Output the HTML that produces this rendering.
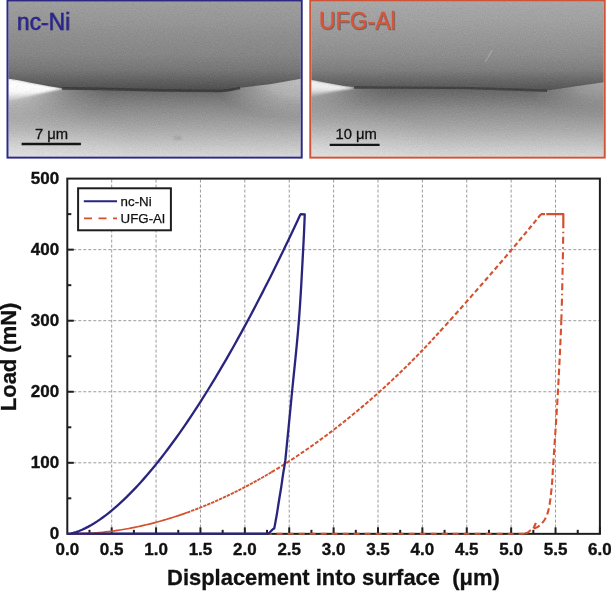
<!DOCTYPE html>
<html><head><meta charset="utf-8"><style>
html,body{margin:0;padding:0;background:#fff;}
body{width:611px;height:591px;overflow:hidden;}
svg{display:block;}
text{font-family:"Liberation Sans",Arial,sans-serif;}
.tick{font-size:17px;font-weight:bold;fill:#111;stroke:#111;stroke-width:0.35px;}
.axt{font-size:22px;font-weight:bold;fill:#111;stroke:#111;stroke-width:0.3px;}
.leg{font-size:13.3px;fill:#111;stroke:#111;stroke-width:0.25px;}
.lab{font-size:23.5px;}
.sb{font-size:14.8px;fill:#111;stroke:#111;stroke-width:0.3px;}
</style></head><body>
<svg width="611" height="591" viewBox="0 0 611 591">
<defs>
<linearGradient id="gL_blob" x1="0" y1="0" x2="0" y2="91" gradientUnits="userSpaceOnUse">
  <stop offset="0.0000" stop-color="#9e9e9e"/>
  <stop offset="0.2088" stop-color="#979797"/>
  <stop offset="0.3736" stop-color="#8f8f8f"/>
  <stop offset="0.6044" stop-color="#858585"/>
  <stop offset="0.7692" stop-color="#767676"/>
  <stop offset="0.8681" stop-color="#646464"/>
  <stop offset="0.9451" stop-color="#565656"/>
  <stop offset="1.0000" stop-color="#4c4c4c"/>
</linearGradient>
<linearGradient id="gL_ground" x1="0" y1="88" x2="0" y2="157" gradientUnits="userSpaceOnUse">
  <stop offset="0.0000" stop-color="#646464"/>
  <stop offset="0.1014" stop-color="#717171"/>
  <stop offset="0.1739" stop-color="#7b7b7b"/>
  <stop offset="0.3188" stop-color="#8c8c8c"/>
  <stop offset="0.4638" stop-color="#9b9b9b"/>
  <stop offset="0.6087" stop-color="#aaaaaa"/>
  <stop offset="0.7536" stop-color="#bbbbbb"/>
  <stop offset="0.8986" stop-color="#cccccc"/>
  <stop offset="1.0000" stop-color="#d6d6d6"/>
</linearGradient>
<linearGradient id="gR_blob" x1="0" y1="0" x2="0" y2="91" gradientUnits="userSpaceOnUse">
  <stop offset="0.0000" stop-color="#a8a8a8"/>
  <stop offset="0.2088" stop-color="#a1a1a1"/>
  <stop offset="0.3736" stop-color="#999999"/>
  <stop offset="0.6044" stop-color="#8d8d8d"/>
  <stop offset="0.7692" stop-color="#7e7e7e"/>
  <stop offset="0.8681" stop-color="#6a6a6a"/>
  <stop offset="0.9451" stop-color="#5c5c5c"/>
  <stop offset="1.0000" stop-color="#525252"/>
</linearGradient>
<linearGradient id="gR_ground" x1="0" y1="88" x2="0" y2="157" gradientUnits="userSpaceOnUse">
  <stop offset="0.0000" stop-color="#646464"/>
  <stop offset="0.1014" stop-color="#6f6f6f"/>
  <stop offset="0.1739" stop-color="#797979"/>
  <stop offset="0.3188" stop-color="#8c8c8c"/>
  <stop offset="0.4638" stop-color="#9b9b9b"/>
  <stop offset="0.6087" stop-color="#aaaaaa"/>
  <stop offset="0.7536" stop-color="#bbbbbb"/>
  <stop offset="0.8986" stop-color="#cccccc"/>
  <stop offset="1.0000" stop-color="#d6d6d6"/>
</linearGradient>
<radialGradient id="gLside" cx="8" cy="150" r="1" gradientUnits="userSpaceOnUse" gradientTransform="translate(8 150) scale(130 50) translate(-8 -150)">
  <stop offset="0" stop-color="#ffffff" stop-opacity="0.24"/>
  <stop offset="0.5" stop-color="#ffffff" stop-opacity="0.12"/>
  <stop offset="1" stop-color="#ffffff" stop-opacity="0"/>
</radialGradient>
<radialGradient id="gRside" cx="311" cy="150" r="1" gradientUnits="userSpaceOnUse" gradientTransform="translate(311 150) scale(125 50) translate(-311 -150)">
  <stop offset="0" stop-color="#ffffff" stop-opacity="0.24"/>
  <stop offset="0.5" stop-color="#ffffff" stop-opacity="0.12"/>
  <stop offset="1" stop-color="#ffffff" stop-opacity="0"/>
</radialGradient>
<linearGradient id="gL_wtri" x1="0" y1="80" x2="0" y2="104" gradientUnits="userSpaceOnUse">
  <stop offset="0.0000" stop-color="#fefefe"/>
  <stop offset="0.5000" stop-color="#f8f8f8"/>
  <stop offset="1.0000" stop-color="#e1e1e1" stop-opacity="0"/>
</linearGradient>
<linearGradient id="gR_wtri" x1="0" y1="80" x2="0" y2="99" gradientUnits="userSpaceOnUse">
  <stop offset="0.0000" stop-color="#f2f2f2"/>
  <stop offset="0.4737" stop-color="#eaeaea"/>
  <stop offset="1.0000" stop-color="#d2d2d2" stop-opacity="0"/>
</linearGradient>
<radialGradient id="gL_glow" cx="8" cy="84" r="1" gradientUnits="userSpaceOnUse" gradientTransform="translate(8 84) scale(100 55) translate(-8 -84)">
  <stop offset="0" stop-color="#d7d7d7" stop-opacity="1"/>
  <stop offset="0.35" stop-color="#c8c8c8" stop-opacity="0.7"/>
  <stop offset="0.7" stop-color="#b9b9b9" stop-opacity="0.25"/>
  <stop offset="1" stop-color="#b4b4b4" stop-opacity="0"/>
</radialGradient>
<radialGradient id="gL_rglow" cx="304" cy="80" r="1" gradientUnits="userSpaceOnUse" gradientTransform="translate(304 80) scale(90 40) translate(-304 -80)">
  <stop offset="0" stop-color="#bebebe" stop-opacity="1"/>
  <stop offset="0.4" stop-color="#b8b8b8" stop-opacity="0.9"/>
  <stop offset="0.75" stop-color="#b0b0b0" stop-opacity="0.45"/>
  <stop offset="1" stop-color="#acacac" stop-opacity="0"/>
</radialGradient>
<radialGradient id="gR_glow" cx="311" cy="84" r="1" gradientUnits="userSpaceOnUse" gradientTransform="translate(311 84) scale(80 50) translate(-311 -84)">
  <stop offset="0" stop-color="#bebebe" stop-opacity="0.85"/>
  <stop offset="0.35" stop-color="#b6b6b6" stop-opacity="0.5"/>
  <stop offset="0.7" stop-color="#acacac" stop-opacity="0.15"/>
  <stop offset="1" stop-color="#a5a5a5" stop-opacity="0"/>
</radialGradient>
<radialGradient id="gR_rglow" cx="606" cy="82" r="1" gradientUnits="userSpaceOnUse" gradientTransform="translate(606 82) scale(80 36) translate(-606 -82)">
  <stop offset="0" stop-color="#a8a8a8" stop-opacity="1"/>
  <stop offset="0.4" stop-color="#a0a0a0" stop-opacity="0.8"/>
  <stop offset="0.75" stop-color="#989898" stop-opacity="0.35"/>
  <stop offset="1" stop-color="#949494" stop-opacity="0"/>
</radialGradient>
<filter id="grain" filterUnits="userSpaceOnUse" x="0" y="0" width="611" height="160" color-interpolation-filters="sRGB">
  <feTurbulence type="fractalNoise" baseFrequency="0.75" numOctaves="2" seed="7" result="n"/>
  <feColorMatrix in="n" type="matrix" values="1 0 0 0 0  1 0 0 0 0  1 0 0 0 0  0 0 0 0 1" result="ng"/>
  <feComposite in="SourceGraphic" in2="ng" operator="arithmetic" k1="0" k2="1" k3="0.10" k4="-0.05"/>
</filter>
<filter id="blur05" filterUnits="userSpaceOnUse" x="0" y="0" width="611" height="160"><feGaussianBlur stdDeviation="0.6"/></filter>
<filter id="blur1" filterUnits="userSpaceOnUse" x="0" y="0" width="611" height="160"><feGaussianBlur stdDeviation="1.0"/></filter>
<filter id="blur3" filterUnits="userSpaceOnUse" x="0" y="0" width="611" height="160"><feGaussianBlur stdDeviation="3"/></filter>
<filter id="blur5" filterUnits="userSpaceOnUse" x="0" y="0" width="611" height="160"><feGaussianBlur stdDeviation="5"/></filter>
<clipPath id="cL"><rect x="8.5" y="1.6" width="292.2" height="155"/></clipPath>
<clipPath id="cR"><rect x="311.3" y="1.6" width="292.4" height="155"/></clipPath>

</defs>

<g clip-path="url(#cL)"><g filter="url(#grain)">
  <rect x="8.5" y="0" width="292.2" height="157" fill="url(#gL_ground)"/>
  <rect x="0" y="95" width="150" height="65" fill="url(#gLside)"/>
  <rect x="0" y="60" width="200" height="100" fill="url(#gL_glow)"/>
  <rect x="200" y="60" width="110" height="80" fill="url(#gL_rglow)"/>
  <path d="M5,78.7 L64,88.4 C45,92 25,97 5,102 Z" fill="url(#gL_wtri)" filter="url(#blur1)"/>
  <ellipse cx="177.5" cy="138" rx="4.5" ry="2" fill="#808080" opacity="0.35" filter="url(#blur1)"/>
  <path d="M0,0 L302,0 L302,78.6 L270,84.2 L240,87.8 C232,89.5 226,90.6 220,90.8 L160,90.2 L100,88.7 L62,88.2 C45,86 28,81.5 8.5,78.7 L0,78.7 Z" fill="url(#gL_blob)"/>
  <path d="M62,88.4 L100,88.9 L160,90.4 L220,91 C226,90.8 232,89.7 240,88" fill="none" stroke="#383838" stroke-width="2.6" filter="url(#blur05)" opacity="0.85"/>
</g></g>
<rect x="7.5" y="0.6" width="294.2" height="157" fill="none" stroke="#2d2884" stroke-width="2"/>
<text x="17.6" y="30.4" class="lab" style="font-size:23px" fill="#333" stroke="#333" stroke-width="0.4" opacity="0.5" filter="url(#blur05)" textLength="53.2" lengthAdjust="spacingAndGlyphs">nc-Ni</text>
<text x="16.8" y="29.6" class="lab" style="font-size:23px" fill="#2b2592" stroke="#2b2592" stroke-width="0.35" textLength="53.2" lengthAdjust="spacingAndGlyphs">nc-Ni</text>
<line x1="21.6" y1="144.1" x2="80.9" y2="144.1" stroke="#151515" stroke-width="2.5"/>
<text x="35" y="138.6" class="sb">7 &#956;m</text>

<g clip-path="url(#cR)"><g filter="url(#grain)">
  <rect x="311" y="0" width="293" height="157" fill="url(#gR_ground)"/>
  <rect x="300" y="95" width="150" height="65" fill="url(#gRside)"/>
  <rect x="300" y="60" width="200" height="100" fill="url(#gR_glow)"/>
  <rect x="500" y="60" width="110" height="80" fill="url(#gR_rglow)"/>
  <path d="M308,79.8 L356,88 C340,90 325,93 308,97 Z" fill="url(#gR_wtri)" filter="url(#blur1)"/>
  <path d="M305,0 L606,0 L606,82 L547,90.5 L520,89.5 L470,87.9 L400,87.4 L356,87.3 C340,86 326,82.5 311.3,79.8 L305,79.8 Z" fill="url(#gR_blob)"/>
  <path d="M485,62 C488,58 490,55 492,50" fill="none" stroke="#c0c0c0" stroke-width="1.2" opacity="0.45" filter="url(#blur05)"/>
  <path d="M354,87.5 L400,87.6 L470,88.1 L520,89.7 L547,90.7" fill="none" stroke="#3c3c3c" stroke-width="2.4" filter="url(#blur05)" opacity="0.85"/>
</g></g>
<rect x="310.3" y="0.6" width="294.4" height="157" fill="none" stroke="#cf5337" stroke-width="2"/>
<text x="319.8" y="30.1" class="lab" fill="#333" stroke="#333" stroke-width="0.5" opacity="0.5" filter="url(#blur05)" textLength="76.6" lengthAdjust="spacingAndGlyphs">UFG-Al</text>
<text x="319.0" y="29.3" class="lab" fill="#d8553a" stroke="#d8553a" stroke-width="0.35" textLength="76.6" lengthAdjust="spacingAndGlyphs">UFG-Al</text>
<line x1="329.7" y1="144.9" x2="379.6" y2="144.9" stroke="#151515" stroke-width="2.2"/>
<text x="335.5" y="139.2" class="sb">10 &#956;m</text>


<g id="chart">
  <g stroke="#9a9a9a" stroke-width="1" stroke-dasharray="3 2" fill="none"><line x1="111.69" y1="179.6" x2="111.69" y2="532.8"/><line x1="156.07" y1="179.6" x2="156.07" y2="532.8"/><line x1="200.45" y1="179.6" x2="200.45" y2="532.8"/><line x1="244.84" y1="179.6" x2="244.84" y2="532.8"/><line x1="289.22" y1="179.6" x2="289.22" y2="532.8"/><line x1="333.61" y1="179.6" x2="333.61" y2="532.8"/><line x1="378.00" y1="179.6" x2="378.00" y2="532.8"/><line x1="422.38" y1="179.6" x2="422.38" y2="532.8"/><line x1="466.76" y1="179.6" x2="466.76" y2="532.8"/><line x1="511.15" y1="179.6" x2="511.15" y2="532.8"/><line x1="555.53" y1="179.6" x2="555.53" y2="532.8"/><line x1="68.3" y1="462.80" x2="599.5" y2="462.80"/><line x1="68.3" y1="391.75" x2="599.5" y2="391.75"/><line x1="68.3" y1="320.70" x2="599.5" y2="320.70"/><line x1="68.3" y1="249.65" x2="599.5" y2="249.65"/></g>
  <g stroke="#1e1e1e" stroke-width="2" fill="none">
    <rect x="67.3" y="178.6" width="532.6" height="355.25"/>
    <line x1="89.49" y1="533.85" x2="89.49" y2="529.85"/><line x1="111.69" y1="533.85" x2="111.69" y2="527.35"/><line x1="133.88" y1="533.85" x2="133.88" y2="529.85"/><line x1="156.07" y1="533.85" x2="156.07" y2="527.35"/><line x1="178.26" y1="533.85" x2="178.26" y2="529.85"/><line x1="200.45" y1="533.85" x2="200.45" y2="527.35"/><line x1="222.65" y1="533.85" x2="222.65" y2="529.85"/><line x1="244.84" y1="533.85" x2="244.84" y2="527.35"/><line x1="267.03" y1="533.85" x2="267.03" y2="529.85"/><line x1="289.22" y1="533.85" x2="289.22" y2="527.35"/><line x1="311.42" y1="533.85" x2="311.42" y2="529.85"/><line x1="333.61" y1="533.85" x2="333.61" y2="527.35"/><line x1="355.80" y1="533.85" x2="355.80" y2="529.85"/><line x1="378.00" y1="533.85" x2="378.00" y2="527.35"/><line x1="400.19" y1="533.85" x2="400.19" y2="529.85"/><line x1="422.38" y1="533.85" x2="422.38" y2="527.35"/><line x1="444.57" y1="533.85" x2="444.57" y2="529.85"/><line x1="466.76" y1="533.85" x2="466.76" y2="527.35"/><line x1="488.96" y1="533.85" x2="488.96" y2="529.85"/><line x1="511.15" y1="533.85" x2="511.15" y2="527.35"/><line x1="533.34" y1="533.85" x2="533.34" y2="529.85"/><line x1="555.53" y1="533.85" x2="555.53" y2="527.35"/><line x1="577.73" y1="533.85" x2="577.73" y2="529.85"/><line x1="599.92" y1="533.85" x2="599.92" y2="527.35"/><line x1="67.3" y1="498.33" x2="71.30" y2="498.33"/><line x1="67.3" y1="462.80" x2="73.80" y2="462.80"/><line x1="67.3" y1="427.28" x2="71.30" y2="427.28"/><line x1="67.3" y1="391.75" x2="73.80" y2="391.75"/><line x1="67.3" y1="356.23" x2="71.30" y2="356.23"/><line x1="67.3" y1="320.70" x2="73.80" y2="320.70"/><line x1="67.3" y1="285.18" x2="71.30" y2="285.18"/><line x1="67.3" y1="249.65" x2="73.80" y2="249.65"/><line x1="67.3" y1="214.12" x2="71.30" y2="214.12"/>
  </g>
  <g fill="none" stroke-linejoin="round" stroke-linecap="butt">
    <polyline points="524.64,533.71 268.36,533.71" stroke="#d4502f" stroke-width="2" stroke-dasharray="6 5"/>
    <polyline points="73.52,533.85 76.44,533.83 79.35,533.78 82.26,533.69 85.18,533.58 88.09,533.43 91.00,533.26 93.92,533.06 96.83,532.83 99.74,532.57 102.66,532.28 105.57,531.96 108.48,531.62 111.40,531.25 114.31,530.86 117.22,530.44 120.13,529.99 123.05,529.51 125.96,529.01 128.87,528.48 131.79,527.93 134.70,527.35 137.61,526.74 140.53,526.11 143.44,525.45 146.35,524.77 149.27,524.06 152.18,523.32 155.09,522.57 158.01,521.78 160.92,520.97 163.83,520.14 166.75,519.28 169.66,518.39 172.57,517.48 175.49,516.55 178.40,515.59 181.31,514.60 184.23,513.60 187.14,512.56" stroke="#d4502f" stroke-width="1.7"/>
    <polyline points="187.14,512.56 189.30,511.78 191.46,510.98 193.63,510.17 195.79,509.35 197.95,508.51 200.11,507.66 202.28,506.80 204.44,505.92 206.60,505.03 208.76,504.13 210.93,503.21 213.09,502.28 215.25,501.34 217.41,500.38 219.57,499.41 221.74,498.43 223.90,497.43 226.06,496.42 228.22,495.40 230.39,494.37 232.55,493.32 234.71,492.25 236.87,491.18 239.04,490.09 241.20,488.99 243.36,487.87 245.52,486.75 247.69,485.61 249.85,484.45 252.01,483.28 254.17,482.10 256.33,480.91 258.50,479.71 260.66,478.49 262.82,477.26 264.98,476.01 267.15,474.75 269.31,473.48 271.47,472.20" stroke="#d4502f" stroke-width="1.9" stroke-dasharray="3.4 0.9"/>
    <polyline points="271.47,472.20 274.91,470.13 278.36,468.03 281.80,465.89 285.24,463.72 288.68,461.52 292.12,459.29 295.57,457.03 299.01,454.73 302.45,452.40 305.89,450.04 309.33,447.64 312.78,445.22 316.22,442.76 319.66,440.27 323.10,437.74 326.54,435.19 329.99,432.60 333.43,429.98 336.87,427.33 340.31,424.65 343.76,421.93 347.20,419.18 350.64,416.40 354.08,413.58 357.52,410.74 360.97,407.86 364.41,404.94 367.85,402.00 371.29,399.01 374.73,396.00 378.18,392.94 381.62,389.85 385.06,386.73 388.50,383.56 391.94,380.36 395.39,377.12 398.83,373.84 402.27,370.52 405.71,367.15 409.16,363.75 412.60,360.30 416.04,356.81 419.48,353.28 422.92,349.71 426.37,346.10 429.81,342.45 433.25,338.76 436.69,335.04 440.13,331.29" stroke="#d4502f" stroke-width="2.0" stroke-dasharray="4 1.8"/>
    <polyline points="440.13,331.29 443.61,327.47 447.09,323.62 450.57,319.75 454.04,315.86 457.52,311.95 461.00,308.03 464.48,304.09 467.95,300.14 471.43,296.18 474.91,292.22 478.38,288.25 481.86,284.27 485.34,280.28 488.82,276.29 492.29,272.28 495.77,268.26 499.25,264.22 502.73,260.16 506.20,256.08 509.68,251.98 513.16,247.85 516.64,243.71 520.11,239.54 523.59,235.37 527.07,231.20 530.54,227.02 534.02,222.81 537.50,218.52 540.98,214.13" stroke="#d4502f" stroke-width="2.1" stroke-dasharray="4.7 2.8"/>
    <polyline points="540.98,214.12 563.35,214.12 563.30,228.34" stroke="#d4502f" stroke-width="2.2" stroke-dasharray="4 1.3 60 0"/>
    <polyline points="563.30,228.34 563.25,231.95 563.18,236.76 563.10,242.55 563.00,249.12 562.88,256.29 562.73,263.86 562.56,271.94 562.39,280.70 562.19,290.06 561.95,299.91 561.66,310.16 561.31,320.70" stroke="#d4502f" stroke-width="2.1" stroke-dasharray="7 3.5 1.5 3.5" stroke-dashoffset="7"/>
    <polyline points="561.31,320.70 560.87,331.72 560.37,343.33 559.82,355.34 559.22,367.54 558.59,379.74 557.93,391.75 557.19,404.21 556.35,417.41 555.48,430.61 554.64,443.06 553.89,454.04 553.32,462.80 552.93,468.93 552.69,472.93 552.56,475.46 552.47,477.14 552.38,478.63 552.25,480.56 552.08,482.77 551.92,484.72 551.76,486.47 551.60,488.09 551.44,489.65 551.27,491.22 551.12,492.76 550.96,494.22 550.81,495.62 550.66,496.98 550.49,498.35 550.30,499.75 550.09,501.19 549.87,502.67 549.64,504.14 549.39,505.59 549.14,506.97 548.88,508.27 548.61,509.47 548.34,510.60 548.07,511.67 547.77,512.69 547.45,513.69 547.10,514.67 546.71,515.64 546.30,516.58 545.85,517.50 545.39,518.38 544.92,519.21 544.44,520.00 543.95,520.71 543.45,521.37 542.94,521.98 542.42,522.56 541.88,523.12 541.33,523.69 540.78,524.27 540.22,524.84 539.65,525.40 539.06,525.93 538.44,526.43 537.78,526.89 537.05,527.29 536.26,527.65 535.44,527.98 534.62,528.28 533.85,528.58 533.16,528.88 532.56,529.17 532.00,529.44 531.49,529.71 531.02,529.97 530.57,530.23 530.15,530.51 529.77,530.80 529.45,531.11 529.15,531.41 528.85,531.72 528.52,532.01 528.11,532.29 527.57,532.56 526.93,532.84 526.25,533.11 525.59,533.35 525.04,533.56 524.64,533.71" stroke="#d4502f" stroke-width="2.1" stroke-dasharray="6.5 3.5" stroke-dashoffset="2"/>
    <polyline points="533.52,528.52 535.83,522.84" stroke="#d4502f" stroke-width="2.2"/>
    <polyline points="67.30,533.85 70.25,533.53 73.20,532.89 76.15,532.02 79.09,530.97 82.04,529.75 84.99,528.39 87.94,526.88 90.89,525.25 93.84,523.49 96.79,521.62 99.73,519.64 102.68,517.54 105.63,515.35 108.58,513.05 111.53,510.66 114.48,508.18 117.42,505.60 120.37,502.93 123.32,500.18 126.27,497.34 129.22,494.42 132.17,491.41 135.12,488.33 138.06,485.17 141.01,481.93 143.96,478.62 146.91,475.23 149.86,471.76 152.81,468.23 155.76,464.62 158.70,460.95 161.65,457.20 164.60,453.39 167.55,449.51 170.50,445.56 173.45,441.54 176.39,437.47 179.34,433.32 182.29,429.12 185.24,424.85 188.19,420.52 191.14,416.12 194.09,411.67 197.03,407.16 199.98,402.58 202.93,397.95 205.88,393.26 208.83,388.51 211.78,383.70 214.73,378.84 217.67,373.92 220.62,368.94 223.57,363.91 226.52,358.83 229.47,353.68 232.42,348.49 235.37,343.24 238.31,337.93 241.26,332.58 244.21,327.17 247.16,321.71 250.11,316.19 253.06,310.63 256.00,305.01 258.95,299.34 261.90,293.62 264.85,287.85 267.80,282.04 270.75,276.17 273.70,270.25 276.64,264.28 279.59,258.27 282.54,252.20 285.49,246.09 288.44,239.93 291.39,233.72 294.34,227.47 297.28,221.17 300.23,214.82 300.94,214.12 304.76,214.48 304.62,217.89 304.44,222.27 304.23,227.62 303.95,233.97 303.60,241.30 303.16,249.65 302.64,259.42 302.03,270.68 301.36,282.93 300.61,295.69 299.79,308.44 298.90,320.70 297.90,332.69 296.77,344.87 295.57,357.05 294.35,369.05 293.17,380.67 292.07,391.75 291.00,402.67 289.93,413.66 288.89,424.28 287.92,434.10 287.07,442.68 286.38,449.58 285.91,454.40 285.61,457.39 285.43,459.14 285.31,460.24 285.17,461.26 284.96,462.80 284.69,464.69 284.41,466.44 284.11,468.11 283.81,469.79 283.50,471.55 283.19,473.46 282.88,475.54 282.56,477.75 282.24,480.03 281.91,482.35 281.58,484.67 281.24,486.96 280.88,489.21 280.51,491.46 280.14,493.71 279.76,495.96 279.38,498.21 279.02,500.46 278.65,502.74 278.29,505.05 277.93,507.37 277.58,509.65 277.23,511.85 276.89,513.96 276.53,516.05 276.15,518.20 275.78,520.27 275.43,522.16 275.14,523.74 274.93,524.90 274.22,528.45 273.07,529.02 271.47,530.58 269.87,532.29 268.54,533.64 67.30,533.64" stroke="#29257f" stroke-width="2.3"/>
  </g>
  <g>
    <rect x="78.1" y="188.3" width="92.8" height="42" fill="#fff" stroke="#1e1e1e" stroke-width="2"/>
    <line x1="83.8" y1="201.3" x2="117" y2="201.3" stroke="#29257f" stroke-width="1.9"/>
    <line x1="84" y1="218.4" x2="117" y2="218.4" stroke="#d4502f" stroke-width="1.9" stroke-dasharray="8 6.5"/>
    <text x="120.6" y="206" class="leg">nc-Ni</text>
    <text x="120.6" y="222.8" class="leg">UFG-Al</text>
  </g>
  <g class="tick" text-anchor="middle"><text x="67.30" y="555.1">0.0</text><text x="111.69" y="555.1">0.5</text><text x="156.07" y="555.1">1.0</text><text x="200.45" y="555.1">1.5</text><text x="244.84" y="555.1">2.0</text><text x="289.22" y="555.1">2.5</text><text x="333.61" y="555.1">3.0</text><text x="378.00" y="555.1">3.5</text><text x="422.38" y="555.1">4.0</text><text x="466.76" y="555.1">4.5</text><text x="511.15" y="555.1">5.0</text><text x="555.53" y="555.1">5.5</text><text x="599.92" y="555.1">6.0</text></g>
  <g class="tick" text-anchor="end"><text x="59.2" y="539.45">0</text><text x="59.2" y="468.40">100</text><text x="59.2" y="397.35">200</text><text x="59.2" y="326.30">300</text><text x="59.2" y="255.25">400</text><text x="59.2" y="184.20">500</text></g>
  <text class="axt" x="167.1" y="585" textLength="332.6" lengthAdjust="spacingAndGlyphs">Displacement into surface&#160;&#160;(&#956;m)</text>
  <text class="axt" style="font-size:22.6px" textLength="108.6" lengthAdjust="spacingAndGlyphs" transform="translate(16.3,411.2) rotate(-90)">Load (mN)</text>
</g>

</svg>
</body></html>
